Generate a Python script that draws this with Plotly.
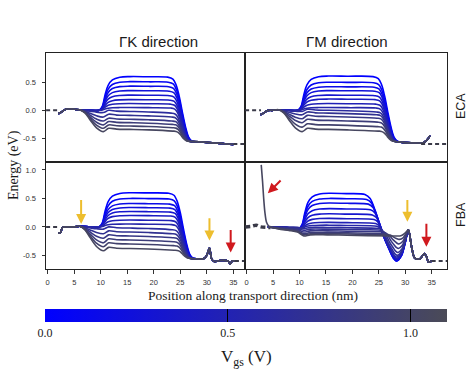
import plotly.graph_objects as go

# ---------------- data ----------------
vgs = [0.00, 0.08, 0.16, 0.24, 0.32, 0.40, 0.48, 0.56, 0.64, 0.72, 0.80, 0.88, 0.96, 1.04]

# plateau energy in the channel (eV, read near x = 20 nm)
gk_eca_plateau = [0.60, 0.51, 0.43, 0.35, 0.27, 0.19, 0.12, 0.05, -0.02, -0.09, -0.16, -0.22, -0.28, -0.34]
gm_eca_plateau = [0.61, 0.50, 0.42, 0.35, 0.27, 0.20, 0.12, 0.05, 0.00, -0.05, -0.11, -0.18, -0.26, -0.34]
gk_fba_plateau = [0.60, 0.50, 0.41, 0.34, 0.27, 0.20, 0.12, 0.05, -0.02, -0.09, -0.16, -0.23, -0.30, -0.38]
gm_fba_plateau = [0.59, 0.50, 0.42, 0.32, 0.23, 0.15, 0.08, 0.03, -0.01, -0.04, -0.07, -0.10, -0.12, -0.14]

# minimum just before the gate (x ~ 10.5 nm); 0 = no dip
gk_eca_pregate = [0, 0, 0, 0, 0, 0, 0, 0, -0.04, -0.12, -0.19, -0.26, -0.32, -0.38]
gm_eca_pregate = [0, 0, 0, 0, 0, 0, 0, 0, -0.02, -0.08, -0.15, -0.22, -0.30, -0.38]
gk_fba_pregate = [0, 0, 0, 0, 0, 0, 0, 0, -0.04, -0.12, -0.20, -0.28, -0.35, -0.42]

# ΓM FBA: valley energy / position on the drain side
gm_fba_valley = [-0.60, -0.60, -0.59, -0.58, -0.57, -0.56, -0.55, -0.53, -0.50, -0.45, -0.38, -0.30, -0.22, -0.15]
gm_fba_valley_x = [28.4, 28.4, 28.4, 28.4, 28.4, 28.4, 28.4, 28.4, 28.5, 28.6, 28.7, 28.8, 28.9, 29.0]

# source-side points (x nm, E eV)
gk_eca_source = [(2.0, -0.06), (2.6, -0.03), (3.4, 0.02), (4.6, 0.025), (5.4, 0.015)]
gm_eca_source = [(2.6, -0.08), (3.2, -0.05), (4.0, -0.005), (5.0, 0.0)]
gk_fba_source = [(2.0, -0.11), (2.4, -0.10), (2.8, -0.01), (3.6, 0.0), (5.0, 0.0)]
gm_fba_spike = [(2.75, 1.09), (3.0, 0.80), (3.2, 0.52), (3.45, 0.25), (3.75, 0.08), (4.2, 0.01)]

# drain-side points (x nm, E eV)
gk_eca_drain = [(28.5, -0.56), (31.0, -0.58), (33.0, -0.59), (35.0, -0.61)]
gm_eca_drain = [(29.5, -0.57), (32.0, -0.58), (33.3, -0.58), (34.0, -0.54), (34.7, -0.45)]
gk_fba_drain = [(28.2, -0.56), (29.4, -0.56), (30.0, -0.50), (30.5, -0.37), (30.9, -0.56),
                (31.4, -0.61), (32.5, -0.59), (34.0, -0.60), (34.4, -0.65), (34.8, -0.60), (35.3, -0.60)]
gm_fba_peak = (30.6, -0.05)
gm_fba_drain = [(31.2, -0.35), (31.8, -0.55), (32.8, -0.56), (33.6, -0.47), (34.0, -0.52),
                (34.4, -0.62), (35.0, -0.60)]

# Fermi levels (dashed)
mu_source = 0.0
mu_drain = -0.60

# colour bar
cbar_ticks = [0.0, 0.5, 1.0]
cbar_labels = ["0.0", "0.5", "1.0"]
vgs_max = 1.1

# ---------------- styling / helpers ----------------
W, H = 474, 376
C0 = (0, 0, 255)
C1 = (75, 75, 87)
colorscale = [[0, "rgb(0,0,255)"], [1, "rgb(75,75,87)"]]


def vcol(v):
    t = min(max(v / vgs_max, 0), 1)
    c = [round(a + (b - a) * t) for a, b in zip(C0, C1)]
    return "rgb(%d,%d,%d)" % tuple(c)


DROP_OFF = [-2.6, -1.6, -1.0, -0.4, 0.2, 0.8, 1.4, 2.0]
DROP_F = [0.0, 0.03, 0.12, 0.30, 0.55, 0.78, 0.94, 1.0]


def curve_std(P, pre, src, rise_x, xd, Dl, tail):
    pts = list(src)
    if pre > -0.005:
        pts += [(6.0, 0.01), (8.0, 0.0), (rise_x - 0.3, 0.0), (rise_x + 0.3, 0.12 * P),
                (rise_x + 0.8, 0.45 * P), (rise_x + 1.4, 0.74 * P), (rise_x + 2.2, 0.90 * P),
                (rise_x + 3.6, 0.98 * P), (rise_x + 5.5, P)]
        Pe = P - 0.01
    else:
        pts += [(6.0, 0.01), (7.0, 0.12 * pre), (8.0, 0.45 * pre), (9.2, 0.82 * pre),
                (rise_x + 0.5, pre), (rise_x + 1.5, P + 0.02), (rise_x + 3.0, P + 0.005),
                (rise_x + 5.5, P)]
        Pe = P - 0.03
    amp = Pe - Dl
    w = 0.55 + 0.45 * amp / 1.15
    pts.append((19.0, P - 0.3 * (P - Pe)))
    pts += [(xd + o * w, Pe - f * amp) for o, f in zip(DROP_OFF, DROP_F)]
    pts += tail
    return [p[0] for p in pts], [p[1] for p in pts]


D_OFF = [-3.0, -2.0, -1.0, 0.2, 1.5, 2.4, 3.1]
D_F = [0.0, 0.06, 0.25, 0.55, 0.80, 0.95, 1.0]


def curve_gmfba(P, v, vx, spike):
    pts = list(gm_fba_spike) if spike else [(4.0, 0.0)]
    base = -0.03
    if P > base + 0.04:
        pts += [(6.0, -0.005), (8.0, -0.015), (9.9, base), (10.5, base + 0.12 * (P - base)),
                (11.0, base + 0.45 * (P - base)), (11.6, base + 0.74 * (P - base)),
                (12.4, base + 0.90 * (P - base)), (13.8, base + 0.98 * (P - base)), (15.6, P)]
    else:
        pts += [(6.0, 0.25 * P), (8.0, 0.45 * P), (9.6, 0.65 * P), (10.8, P - 0.02),
                (12.0, P), (15.2, P)]
    Pe = P - 0.02
    amp = max(Pe - v, 0.0)
    w = 0.3 + 0.7 * amp / 1.19
    pts.append((19.0, P - 0.006))
    pts += [(vx - (3.1 - o) * w, Pe - f * amp) for o, f in zip(D_OFF, D_F)]
    px, py = gm_fba_peak
    pts += [(vx + 0.4 * (px - vx), v + 0.17 * (py - v)),
            (vx + 0.7 * (px - vx), v + 0.55 * (py - v)), (px, py)]
    pts += gm_fba_drain
    return [p[0] for p in pts], [p[1] for p in pts]


fig = go.Figure()
LW = 1.6


def add_line(x, y, color, xa, ya, width=LW, dash=None, smooth=1.0):
    line = dict(color=color, width=width, shape="spline", smoothing=smooth)
    if dash:
        line["dash"] = dash
    fig.add_trace(go.Scatter(x=x, y=y, mode="lines", line=line, xaxis=xa, yaxis=ya,
                             hoverinfo="skip", showlegend=False))


DASHC = "#3a3a48"

# ΓK ECA  (x, y)
add_line([-0.3, 2.0], [mu_source, mu_source], DASHC, "x", "y", 2, "4px,3px")
for v, P, pre in zip(vgs, gk_eca_plateau, gk_eca_pregate):
    x, y = curve_std(P, pre, gk_eca_source, 10.0, 25.2, -0.55, gk_eca_drain)
    add_line(x, y, vcol(v), "x", "y")
add_line([35.0, 37.5], [mu_drain, mu_drain], DASHC, "x", "y", 2, "4px,3px")

# ΓM ECA  (x2, y2)
add_line([-0.3, 2.7], [mu_source, mu_source], DASHC, "x2", "y2", 2, "4px,3px")
for v, P, pre in zip(vgs, gm_eca_plateau, gm_eca_pregate):
    x, y = curve_std(P, pre, gm_eca_source, 10.0, 26.5, -0.55, gm_eca_drain)
    add_line(x, y, vcol(v), "x2", "y2")
add_line([33.0, 38.2], [mu_drain, mu_drain], DASHC, "x2", "y2", 2, "4px,3px")

# ΓK FBA  (x3, y3)
add_line([-0.3, 2.0], [mu_source, mu_source], DASHC, "x3", "y3", 2, "4px,3px")
for v, P, pre in zip(vgs, gk_fba_plateau, gk_fba_pregate):
    x, y = curve_std(P, pre, gk_fba_source, 10.0, 25.4, -0.55, gk_fba_drain)
    add_line(x, y, vcol(v), "x3", "y3", smooth=0.8)
add_line([35.3, 37.5], [mu_drain, mu_drain], DASHC, "x3", "y3", 2, "4px,3px")

# ΓM FBA  (x4, y4)
add_line([-0.3, 1.0, 1.8, 2.6, 4.5], [mu_source, 0.01, 0.03, 0.0, -0.01], DASHC, "x4", "y4", 3.5, "5px,3px")
n = len(vgs)
for i, (v, P, val, vx) in enumerate(zip(vgs, gm_fba_plateau, gm_fba_valley, gm_fba_valley_x)):
    x, y = curve_gmfba(P, val, vx, i == n - 1)
    add_line(x, y, vcol(v), "x4", "y4", smooth=0.8)
add_line([35.0, 38.2], [mu_drain, mu_drain], DASHC, "x4", "y4", 2, "4px,3px")

# colour bar holder
fig.add_trace(go.Scatter(
    x=[-10, -10], y=[0, 0], mode="markers", xaxis="x", yaxis="y", hoverinfo="skip",
    showlegend=False,
    marker=dict(color=[0, vgs_max], cmin=0, cmax=vgs_max, colorscale=colorscale, size=1,
                showscale=True,
                colorbar=dict(orientation="h", x=45 / W, xanchor="left", y=1 - 309 / H,
                              yanchor="top", len=402 / W, lenmode="fraction",
                              thickness=12.7, thicknessmode="pixels", xpad=0, ypad=0,
                              outlinewidth=0, tickmode="array", tickvals=cbar_ticks,
                              ticktext=cbar_labels, ticks="inside", ticklen=13,
                              tickwidth=1.3, tickcolor="black",
                              tickfont=dict(family="Liberation Serif", size=12, color="#222")))))

# ---------------- axes ----------------
xl = [46 / W, 245 / W]
xr = [245 / W, 447 / W]
yt = [1 - 162 / H, 1 - 53 / H]
yb = [1 - 269 / H, 1 - 162 / H]
AX = dict(showline=True, mirror=True, linecolor="#222", linewidth=1, showgrid=False,
          zeroline=False, ticks="outside", ticklen=3.5, tickcolor="#333",
          tickfont=dict(family="Liberation Sans", size=7.5, color="#333"))
xticks = [0, 5, 10, 15, 20, 25, 30, 35]

fig.update_layout(
    width=W, height=H, margin=dict(l=0, r=0, t=0, b=0, autoexpand=False), autosize=False,
    paper_bgcolor="white", plot_bgcolor="white",
    font=dict(family="Liberation Sans", color="#222"),
    xaxis=dict(AX, domain=xl, range=[-0.32, 37.2], anchor="y", showticklabels=False, ticks=""),
    yaxis=dict(AX, domain=yt, range=[-0.92, 1.02], anchor="x", tickvals=[-0.5, 0, 0.5],
               ticktext=["-0.5", "0.0", "0.5"], ticklabelstandoff=4),
    xaxis2=dict(AX, domain=xr, range=[-0.32, 37.9], anchor="y2", showticklabels=False, ticks=""),
    yaxis2=dict(AX, domain=yt, range=[-0.92, 1.02], anchor="x2", showticklabels=False, ticks=""),
    xaxis3=dict(AX, domain=xl, range=[-0.32, 37.2], anchor="y3", tickvals=xticks, ticklabelstandoff=2),
    yaxis3=dict(AX, domain=yb, range=[-0.74, 1.14], anchor="x3", tickvals=[-0.5, 0, 0.5, 1.0],
                ticktext=["-0.5", "0.0", "0.5", "1.0"], ticklabelstandoff=4),
    xaxis4=dict(AX, domain=xr, range=[-0.32, 37.9], anchor="y4", tickvals=xticks, ticklabelstandoff=2),
    yaxis4=dict(AX, domain=yb, range=[-0.74, 1.14], anchor="x4", showticklabels=False, ticks=""),
)

# ---------------- arrows ----------------
GOLD = "#EDBE2E"
RED = "#D0191E"
arrows = [
    ("x3", "y3", 6.3, 0.50, 6.3, 0.05, GOLD),
    ("x3", "y3", 30.5, 0.18, 30.5, -0.24, GOLD),
    ("x3", "y3", 34.5, -0.03, 34.5, -0.45, RED),
    ("x4", "y4", 6.7, 0.84, 4.0, 0.59, RED),
    ("x4", "y4", 30.4, 0.50, 30.4, 0.09, GOLD),
    ("x4", "y4", 34.0, 0.08, 34.0, -0.35, RED),
]
for xa, ya, x0, y0, x1, y1, c in arrows:
    fig.add_annotation(x=x1, y=y1, ax=x0, ay=y0, xref=xa, yref=ya, axref=xa, ayref=ya,
                       showarrow=True, arrowhead=2, arrowsize=1.0, arrowwidth=2,
                       arrowcolor=c, text="", standoff=0)

# ---------------- texts ----------------
def txt(s, x, y, size, family="Liberation Sans", angle=0):
    fig.add_annotation(text=s, x=x / W, y=1 - y / H, xref="paper", yref="paper",
                       showarrow=False, textangle=angle, xanchor="center", yanchor="middle",
                       font=dict(family=family, size=size, color="#1a1a1a"))


txt("ΓK direction", 158, 41, 15)
txt("ΓM direction", 347, 41, 15)
txt("ECA", 461, 106, 12.5, angle=-90)
txt("FBA", 461, 215, 12.5, angle=-90)
txt("Energy (eV)", 14, 165, 14, "Liberation Serif", -90)
txt("Position along transport direction (nm)", 253, 295, 13.5, "Liberation Serif")
txt("V<sub>gs</sub> (V)", 247, 358, 17, "Liberation Serif")

fig.write_html("out.html", config={"displayModeBar": False, "staticPlot": True},
               post_script="document.body.style.margin='0px';document.body.style.overflow='hidden';")
